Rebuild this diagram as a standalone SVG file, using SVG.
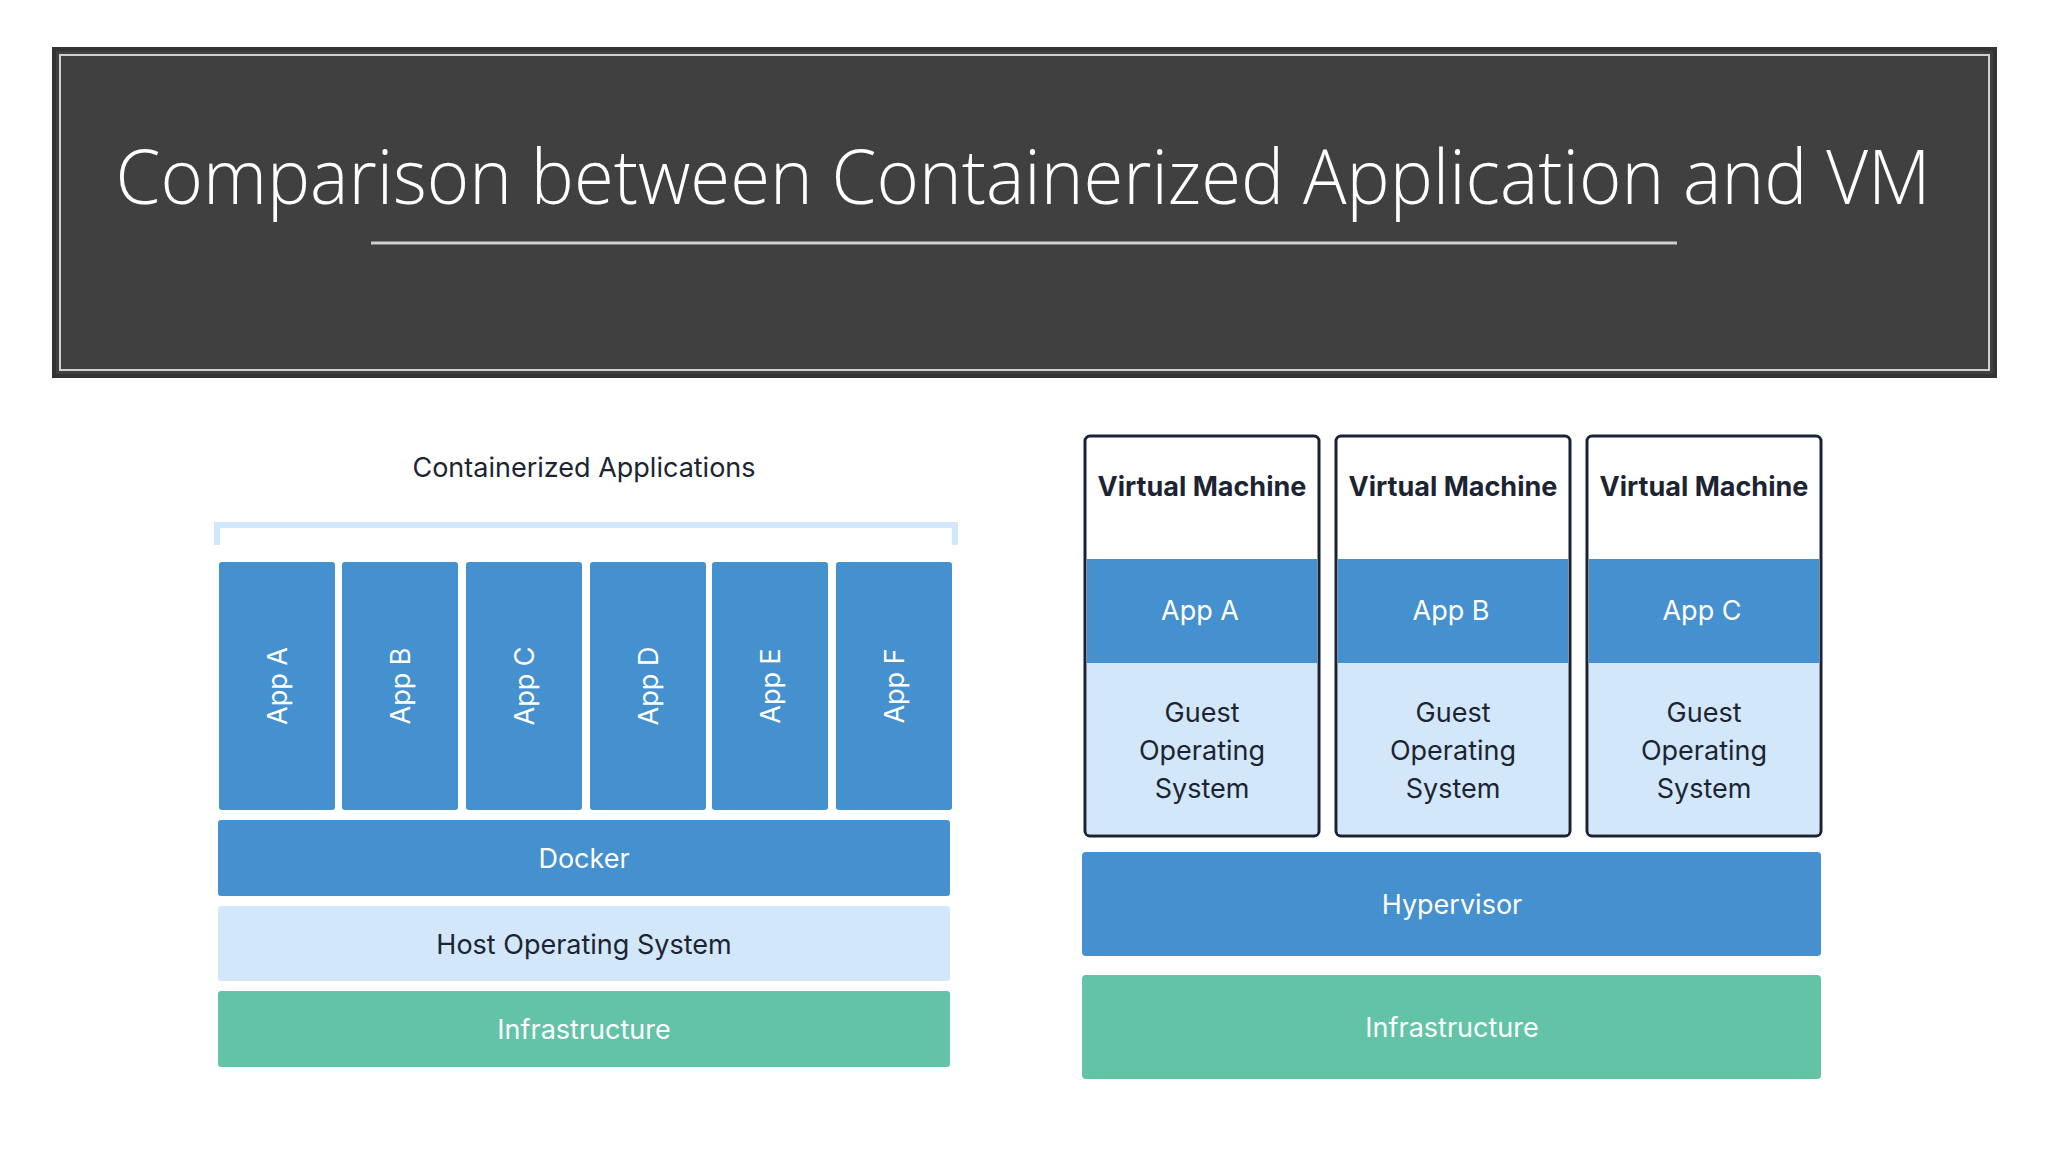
<svg xmlns="http://www.w3.org/2000/svg" width="2048" height="1152" viewBox="0 0 2048 1152">
<style>
.t{font-family:Inter,"Open Sans","Liberation Sans",sans-serif;font-size:27px;text-anchor:middle;dominant-baseline:central}
.w{fill:#fff}.d{fill:#1c2433}
.blue{fill:#4590cf}.light{fill:#d3e7fa}.green{fill:#62c3a7}
</style>
<rect width="2048" height="1152" fill="#fff"/>
<g id="title">
<rect x="54" y="49" width="1941" height="327" fill="#404040" stroke="#333" stroke-width="4"/>
<rect x="60" y="55" width="1929" height="315" fill="none" stroke="#d0d0d0" stroke-width="2"/>
<text x="1023" y="174" font-family="'Open Sans','Liberation Sans',sans-serif" font-weight="300" font-size="76" fill="#fff" text-anchor="middle" dominant-baseline="central" textLength="1815" lengthAdjust="spacingAndGlyphs">Comparison between Containerized Application and VM</text>
<line x1="371" y1="243" x2="1677" y2="243" stroke="#d0d0d0" stroke-width="3"/>
</g>
<g id="containers">
<text class="t d" x="584" y="467">Containerized Applications</text>
<path d="M217 545 V525 H955 V545" fill="none" stroke="#d3e7fa" stroke-width="6"/>
<g id="apps">
<rect class="blue" x="219" y="562" width="116" height="248" rx="3"/>
<rect class="blue" x="342" y="562" width="116" height="248" rx="3"/>
<rect class="blue" x="466" y="562" width="116" height="248" rx="3"/>
<rect class="blue" x="590" y="562" width="116" height="248" rx="3"/>
<rect class="blue" x="712" y="562" width="116" height="248" rx="3"/>
<rect class="blue" x="836" y="562" width="116" height="248" rx="3"/>
<text class="t w" transform="translate(277,686) rotate(-90)">App A</text>
<text class="t w" transform="translate(400,686) rotate(-90)">App B</text>
<text class="t w" transform="translate(524,686) rotate(-90)">App C</text>
<text class="t w" transform="translate(648,686) rotate(-90)">App D</text>
<text class="t w" transform="translate(770,686) rotate(-90)">App E</text>
<text class="t w" transform="translate(894,686) rotate(-90)">App F</text>
</g>
<g id="docker"><rect class="blue" x="218" y="820" width="732" height="76" rx="3"/><text class="t w" x="584" y="858">Docker</text></g>
<g id="hostos"><rect class="light" x="218" y="906" width="732" height="75" rx="3"/><text class="t d" x="584" y="944">Host Operating System</text></g>
<g id="infra1"><rect class="green" x="218" y="991" width="732" height="76" rx="3"/><text class="t w" x="584" y="1029">Infrastructure</text></g>
</g>
<g id="vms">
<g id="vm1">
<rect x="1085" y="436" width="234" height="400" rx="5" fill="#fff" stroke="#1a2236" stroke-width="3"/>
<rect class="blue" x="1087" y="559" width="230" height="104"/>
<rect class="light" x="1087" y="663" width="230" height="171"/>
<text class="t d" x="1202" y="486" font-weight="bold" font-size="26">Virtual Machine</text>
<text class="t w" x="1200" y="610">App A</text>
<text class="t d" x="1202" y="712">Guest</text><text class="t d" x="1202" y="750">Operating</text><text class="t d" x="1202" y="788">System</text>
</g>
<g id="vm2">
<rect x="1336" y="436" width="234" height="400" rx="5" fill="#fff" stroke="#1a2236" stroke-width="3"/>
<rect class="blue" x="1338" y="559" width="230" height="104"/>
<rect class="light" x="1338" y="663" width="230" height="171"/>
<text class="t d" x="1453" y="486" font-weight="bold" font-size="26">Virtual Machine</text>
<text class="t w" x="1451" y="610">App B</text>
<text class="t d" x="1453" y="712">Guest</text><text class="t d" x="1453" y="750">Operating</text><text class="t d" x="1453" y="788">System</text>
</g>
<g id="vm3">
<rect x="1587" y="436" width="234" height="400" rx="5" fill="#fff" stroke="#1a2236" stroke-width="3"/>
<rect class="blue" x="1589" y="559" width="230" height="104"/>
<rect class="light" x="1589" y="663" width="230" height="171"/>
<text class="t d" x="1704" y="486" font-weight="bold" font-size="26">Virtual Machine</text>
<text class="t w" x="1702" y="610">App C</text>
<text class="t d" x="1704" y="712">Guest</text><text class="t d" x="1704" y="750">Operating</text><text class="t d" x="1704" y="788">System</text>
</g>
<g id="hypervisor"><rect class="blue" x="1082" y="852" width="739" height="104" rx="4"/><text class="t w" x="1452" y="904">Hypervisor</text></g>
<g id="infra2"><rect class="green" x="1082" y="975" width="739" height="104" rx="4"/><text class="t w" x="1452" y="1027">Infrastructure</text></g>
</g>
<g id="connectors"/>
</svg>
